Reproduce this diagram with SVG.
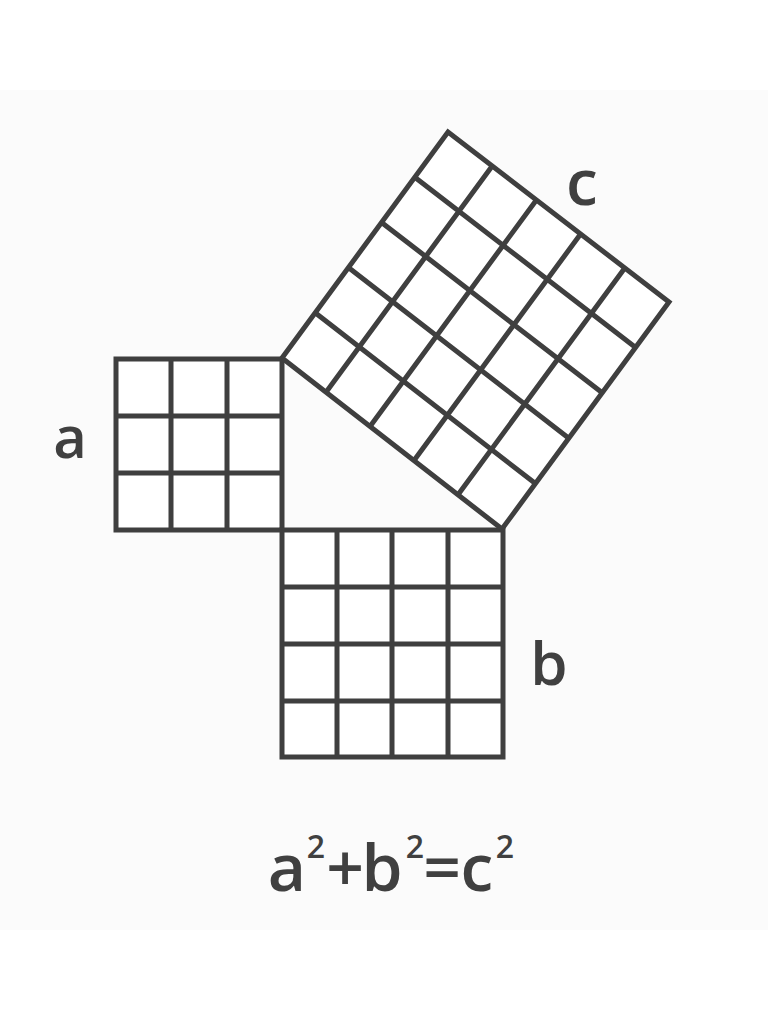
<svg xmlns="http://www.w3.org/2000/svg" width="768" height="1024" viewBox="0 0 768 1024">
  <style>
    .frame { fill: #ffffff; stroke: #3f3f3f; stroke-width: 5; stroke-linejoin: miter; }
    .grid { stroke: #3f3f3f; stroke-width: 5; fill: none; }
    .lbl { font-family: "Open Sans", "Liberation Sans", sans-serif; font-weight: 600; fill: #404040; }
  </style>
  <rect x="0" y="0" width="768" height="1024" fill="#ffffff"/>
  <rect x="0" y="90" width="768" height="840" fill="#fbfbfb"/>

  <g id="square-a">
    <rect class="frame" x="116" y="359" width="166" height="171"/>
    <path class="grid" d="M171,359 V530 M227,359 V530 M116,416 H282 M116,473 H282"/>
  </g>

  <g id="square-b">
    <rect class="frame" x="282" y="530" width="221" height="227"/>
    <path class="grid" d="M337,530 V757 M392,530 V757 M448,530 V757 M282,587 H503 M282,644 H503 M282,701 H503"/>
  </g>

  <g id="square-c">
    <polygon class="frame" points="282,358 448,132 669,302 502,529"/>
    <path class="grid" d="M326,392.2 L492.2,166 M370,426.4 L536.4,200 M414,460.6 L580.6,234 M458,494.8 L624.8,268 M315.2,312.8 L535.4,483.6 M348.4,267.6 L568.8,438.2 M381.6,222.4 L602.2,392.8 M414.8,177.2 L635.6,347.4"/>
  </g>

  <g id="label-a"><text class="lbl" x="70" y="458" font-size="58" text-anchor="middle">a</text></g>
  <g id="label-b"><text class="lbl" x="549" y="685" font-size="60" text-anchor="middle">b</text></g>
  <g id="label-c"><text class="lbl" x="582" y="205" font-size="64" text-anchor="middle">c</text></g>

  <g id="formula">
    <text class="lbl" y="891" font-size="66" text-anchor="middle"><tspan x="287">a</tspan><tspan x="316" y="858" font-size="32">2</tspan><tspan x="345" y="891">+</tspan><tspan x="382">b</tspan><tspan x="415" y="858" font-size="32">2</tspan><tspan x="442" y="891">=</tspan><tspan x="477">c</tspan><tspan x="505" y="858" font-size="32">2</tspan></text>
  </g>
</svg>
